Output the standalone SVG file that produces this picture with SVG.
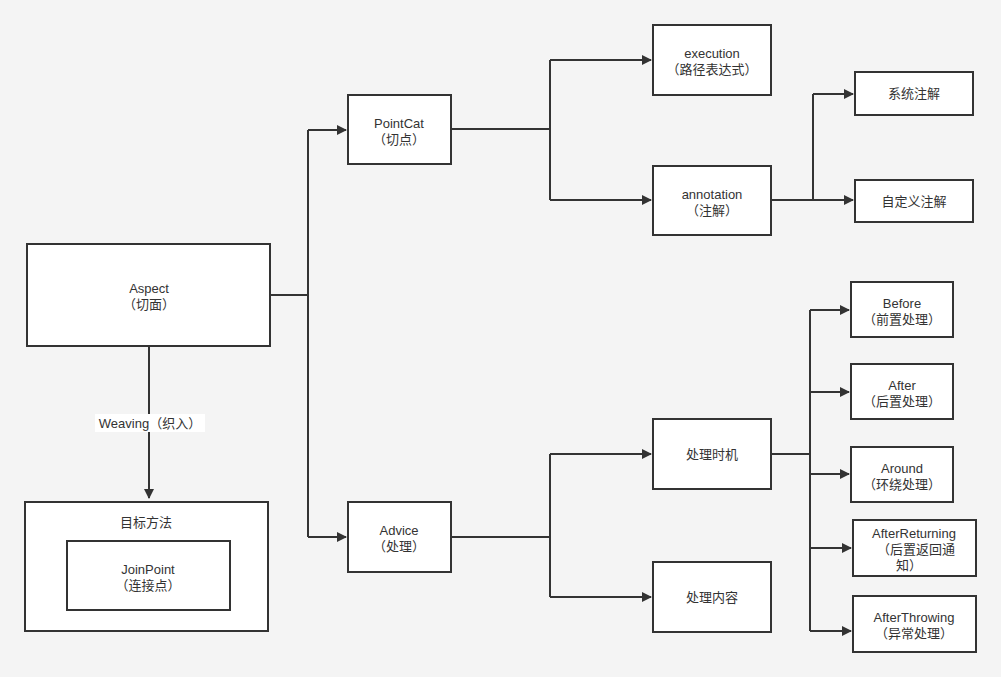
<svg xmlns="http://www.w3.org/2000/svg" width="1001" height="677" viewBox="0 0 1001 677">
<style>
.b{fill:#fff;stroke:#333;stroke-width:2}
text{font-family:"Liberation Sans","Noto Sans CJK SC",sans-serif;font-size:13px;fill:#333;text-anchor:middle}
.c{fill:none;stroke:#333;stroke-width:2}
</style>
<defs><marker id="a" markerWidth="10" markerHeight="10" refX="9" refY="5" orient="auto" markerUnits="userSpaceOnUse"><path d="M0,0L10,5L0,10z" fill="#333"/></marker></defs>
<rect width="1001" height="677" fill="#f4f4f4"/>
<g id="connectors">
<path class="c" d="M270,295H308"/>
<path class="c" d="M308,130V537"/>
<path class="c" d="M308,130H346" marker-end="url(#a)"/>
<path class="c" d="M308,537H346" marker-end="url(#a)"/>
<path class="c" d="M149,346V498" marker-end="url(#a)"/>
<path class="c" d="M451,129H550M550,60V200"/>
<path class="c" d="M550,60H651" marker-end="url(#a)"/>
<path class="c" d="M550,200H651" marker-end="url(#a)"/>
<path class="c" d="M771,200H813M813,94V200"/>
<path class="c" d="M813,94H853" marker-end="url(#a)"/>
<path class="c" d="M813,200H853" marker-end="url(#a)"/>
<path class="c" d="M451,537H550M550,454V597"/>
<path class="c" d="M550,454H651" marker-end="url(#a)"/>
<path class="c" d="M550,597H651" marker-end="url(#a)"/>
<path class="c" d="M771,454H810M810,310V631"/>
<path class="c" d="M810,310H849" marker-end="url(#a)"/>
<path class="c" d="M810,392H849" marker-end="url(#a)"/>
<path class="c" d="M810,474H849" marker-end="url(#a)"/>
<path class="c" d="M810,548H851" marker-end="url(#a)"/>
<path class="c" d="M810,631H851" marker-end="url(#a)"/>
<rect x="95" y="414" width="110" height="18" fill="#fff"/>
<text x="150" y="428">Weaving（织入）</text>
</g>
<g id="aspect"><rect class="b" x="27" y="244" width="243" height="102"/><text x="149" y="293">Aspect</text><text x="149" y="309">（切面）</text></g>
<g id="target"><rect class="b" x="25" y="502" width="243" height="129"/><text x="146" y="527">目标方法</text></g>
<g id="joinpoint"><rect class="b" x="67" y="541" width="163" height="69"/><text x="148" y="574">JoinPoint</text><text x="148" y="590">（连接点）</text></g>
<g id="pointcat"><rect class="b" x="348" y="95" width="103" height="69"/><text x="399" y="128">PointCat</text><text x="399" y="144">（切点）</text></g>
<g id="advice"><rect class="b" x="348" y="502" width="103" height="70"/><text x="399" y="535">Advice</text><text x="399" y="551">（处理）</text></g>
<g id="execution"><rect class="b" x="653" y="25" width="118" height="70"/><text x="712" y="58">execution</text><text x="712" y="74">（路径表达式）</text></g>
<g id="annotation"><rect class="b" x="653" y="166" width="118" height="69"/><text x="712" y="199">annotation</text><text x="712" y="215">（注解）</text></g>
<g id="sys"><rect class="b" x="855" y="72" width="118" height="43"/><text x="914" y="98">系统注解</text></g>
<g id="custom"><rect class="b" x="855" y="180" width="118" height="42"/><text x="914" y="206">自定义注解</text></g>
<g id="timing"><rect class="b" x="653" y="419" width="118" height="70"/><text x="712" y="459">处理时机</text></g>
<g id="content"><rect class="b" x="653" y="562" width="118" height="70"/><text x="712" y="602">处理内容</text></g>
<g id="before"><rect class="b" x="851" y="282" width="102" height="55"/><text x="902" y="308">Before</text><text x="902" y="324">（前置处理）</text></g>
<g id="after"><rect class="b" x="851" y="364" width="102" height="55"/><text x="902" y="390">After</text><text x="902" y="406">（后置处理）</text></g>
<g id="around"><rect class="b" x="851" y="447" width="102" height="55"/><text x="902" y="473">Around</text><text x="902" y="489">（环绕处理）</text></g>
<g id="afterreturning"><rect class="b" x="853" y="520" width="123" height="56"/><text x="914" y="538">AfterReturning</text><text x="916" y="554">（后置返回通</text><text x="909" y="570">知）</text></g>
<g id="afterthrowing"><rect class="b" x="853" y="596" width="123" height="56"/><text x="914" y="622">AfterThrowing</text><text x="914" y="638">（异常处理）</text></g>
</svg>
